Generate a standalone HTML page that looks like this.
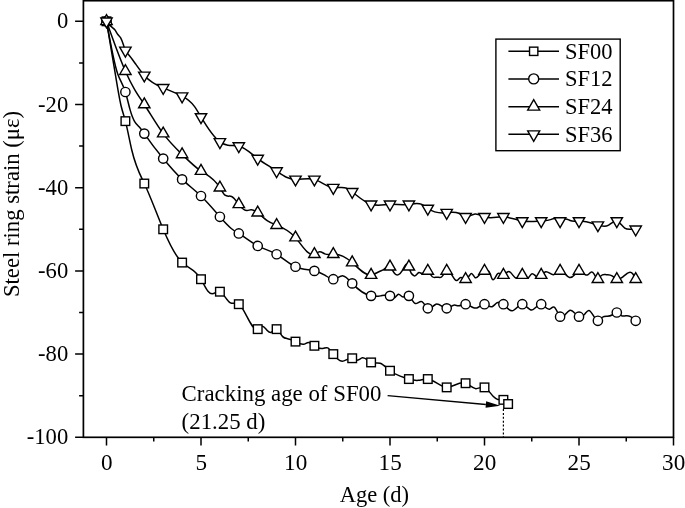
<!DOCTYPE html>
<html><head><meta charset="utf-8"><title>Steel ring strain vs age</title>
<style>html,body{margin:0;padding:0;background:#fff}</style></head>
<body>
<svg width="685" height="508" viewBox="0 0 685 508" style="display:block;font-family:'Liberation Serif',serif;font-size:22.5px" fill="#000">
<rect width="685" height="508" fill="#fff"/>
<rect x="83.4" y="0.7" width="590.10" height="436.60" fill="none" stroke="#000" stroke-width="1.7"/>
<path d="M106.50,437.3v8.3M153.75,437.3v4.3M201.00,437.3v8.3M248.25,437.3v4.3M295.50,437.3v8.3M342.75,437.3v4.3M390.00,437.3v8.3M437.25,437.3v4.3M484.50,437.3v8.3M531.75,437.3v4.3M579.00,437.3v8.3M626.25,437.3v4.3M673.50,437.3v8.3M83.4,21.30h-8.3M83.4,62.90h-4.3M83.4,104.50h-8.3M83.4,146.10h-4.3M83.4,187.70h-8.3M83.4,229.30h-4.3M83.4,270.90h-8.3M83.4,312.50h-4.3M83.4,354.10h-8.3M83.4,395.70h-4.3M83.4,437.30h-8.3" stroke="#000" stroke-width="1.5" fill="none"/>
<text transform="translate(106.70,469.9) scale(1.03,1.06)" text-anchor="middle">0</text>
<text transform="translate(201.20,469.9) scale(1.03,1.06)" text-anchor="middle">5</text>
<text transform="translate(295.70,469.9) scale(1.03,1.06)" text-anchor="middle">10</text>
<text transform="translate(390.20,469.9) scale(1.03,1.06)" text-anchor="middle">15</text>
<text transform="translate(484.70,469.9) scale(1.03,1.06)" text-anchor="middle">20</text>
<text transform="translate(579.20,469.9) scale(1.03,1.06)" text-anchor="middle">25</text>
<text transform="translate(673.70,469.9) scale(1.03,1.06)" text-anchor="middle">30</text>
<text transform="translate(68.2,28.40) scale(1,1.06)" text-anchor="end" font-size="22.6">0</text>
<text transform="translate(68.2,111.60) scale(1,1.06)" text-anchor="end" font-size="22.6">-20</text>
<text transform="translate(68.2,194.80) scale(1,1.06)" text-anchor="end" font-size="22.6">-40</text>
<text transform="translate(68.2,278.00) scale(1,1.06)" text-anchor="end" font-size="22.6">-60</text>
<text transform="translate(68.2,361.20) scale(1,1.06)" text-anchor="end" font-size="22.6">-80</text>
<text transform="translate(68.2,444.40) scale(1,1.06)" text-anchor="end" font-size="22.6">-100</text>
<text x="374.4" y="501.8" text-anchor="middle">Age (d)</text>
<text transform="translate(18.8,204) rotate(-90)" text-anchor="middle" font-size="22.7">Steel ring strain (με)</text>
<path d="M503.40,409V437.3" stroke="#000" stroke-width="1.2" stroke-dasharray="2,1.9" fill="none"/>
<path d="M106.50,21.30C109.30,37.84 112.11,54.39 114.91,71.64C116.96,84.23 119.01,97.21 121.05,105.75C122.50,111.79 123.95,115.61 125.40,121.14C127.54,129.31 129.68,141.20 131.83,150.26C135.98,167.85 140.14,174.76 144.30,183.54C150.60,196.84 156.90,214.40 163.20,229.30C169.50,244.20 175.80,256.45 182.10,262.58C188.40,268.71 194.70,268.71 201.00,279.22C203.33,283.11 205.66,288.43 207.99,291.28C209.38,292.98 210.77,293.80 212.15,293.78C214.73,293.75 217.32,290.82 219.90,291.70C223.24,292.84 226.58,300.33 229.92,302.52C232.88,304.45 235.84,302.21 238.80,304.18C245.10,308.38 251.40,331.66 257.70,329.14C259.34,328.48 260.98,326.08 262.61,326.23C264.25,326.37 265.89,329.06 267.53,330.80C268.60,331.94 269.67,332.67 270.74,332.47C272.69,332.10 274.65,328.62 276.60,329.14C278.62,329.67 280.63,334.46 282.65,336.63C284.29,338.39 285.92,338.43 287.56,338.71C290.21,339.15 292.85,340.22 295.50,341.62C298.46,343.19 301.42,345.17 304.38,344.12C305.71,343.65 307.03,342.57 308.35,342.45C310.37,342.27 312.38,344.30 314.40,345.78C317.49,348.04 320.57,348.99 323.66,348.28C324.98,347.97 326.31,347.36 327.63,347.86C329.52,348.57 331.41,351.54 333.30,354.10C336.26,358.12 339.22,361.14 342.18,361.17C343.51,361.19 344.83,360.60 346.15,359.92C348.17,358.89 350.18,357.65 352.20,358.26C353.77,358.73 355.35,360.33 356.92,360.34C358.75,360.35 360.58,358.21 362.41,357.84C365.30,357.26 368.20,361.13 371.10,362.42C374.12,363.77 377.15,362.31 380.17,363.25C383.45,364.27 386.72,368.12 390.00,370.74C393.40,373.46 396.80,374.87 400.21,376.15C403.10,377.24 406.00,378.24 408.90,379.06C412.05,379.95 415.20,380.62 418.35,380.31C421.50,380.00 424.65,378.70 427.80,379.06C434.10,379.78 440.40,387.11 446.70,387.38C453.00,387.65 459.30,380.87 465.60,383.22C469.00,384.49 472.40,388.42 475.81,388.63C478.70,388.80 481.60,386.27 484.50,387.38C487.46,388.51 490.42,393.45 493.38,396.53C494.83,398.04 496.28,399.11 497.73,399.44C499.62,399.88 501.51,399.08 503.40,399.86C504.97,400.51 506.55,402.27 508.12,404.02" fill="none" stroke="#000" stroke-width="1.5"/>
<g fill="#fff" stroke="#000" stroke-width="1.4"><rect x="102.20" y="17.00" width="8.6" height="8.6"/><rect x="121.10" y="116.84" width="8.6" height="8.6"/><rect x="140.00" y="179.24" width="8.6" height="8.6"/><rect x="158.90" y="225.00" width="8.6" height="8.6"/><rect x="177.80" y="258.28" width="8.6" height="8.6"/><rect x="196.70" y="274.92" width="8.6" height="8.6"/><rect x="215.60" y="287.40" width="8.6" height="8.6"/><rect x="234.50" y="299.88" width="8.6" height="8.6"/><rect x="253.40" y="324.84" width="8.6" height="8.6"/><rect x="272.30" y="324.84" width="8.6" height="8.6"/><rect x="291.20" y="337.32" width="8.6" height="8.6"/><rect x="310.10" y="341.48" width="8.6" height="8.6"/><rect x="329.00" y="349.80" width="8.6" height="8.6"/><rect x="347.90" y="353.96" width="8.6" height="8.6"/><rect x="366.80" y="358.12" width="8.6" height="8.6"/><rect x="385.70" y="366.44" width="8.6" height="8.6"/><rect x="404.60" y="374.76" width="8.6" height="8.6"/><rect x="423.50" y="374.76" width="8.6" height="8.6"/><rect x="442.40" y="383.08" width="8.6" height="8.6"/><rect x="461.30" y="378.92" width="8.6" height="8.6"/><rect x="480.20" y="383.08" width="8.6" height="8.6"/><rect x="499.10" y="395.56" width="8.6" height="8.6"/><rect x="503.82" y="399.72" width="8.6" height="8.6"/></g>
<path d="M106.50,21.30C110.22,42.16 113.93,63.02 117.65,73.72C120.23,81.15 122.82,83.68 125.40,92.02C126.98,97.11 128.55,104.36 130.12,109.91C131.64,115.24 133.15,119.01 134.66,121.56C136.55,124.74 138.44,126.03 140.33,128.21C141.65,129.74 142.98,131.70 144.30,133.62C150.60,142.76 156.90,150.91 163.20,158.58C169.50,166.25 175.80,173.45 182.10,179.38C188.40,185.31 194.70,189.96 201.00,196.02C207.30,202.08 213.60,209.54 219.90,216.82C223.68,221.19 227.46,225.48 231.24,228.47C233.76,230.46 236.28,231.86 238.80,233.46C245.10,237.45 251.40,242.65 257.70,245.94C264.00,249.23 270.30,250.61 276.60,254.26C282.90,257.91 289.20,263.84 295.50,266.74C301.80,269.64 308.10,269.53 314.40,270.90C317.86,271.65 321.33,272.85 324.79,275.06C327.63,276.86 330.46,279.34 333.30,279.22C336.58,279.08 339.85,275.47 343.13,275.89C346.15,276.28 349.18,280.12 352.20,283.38C358.50,290.18 364.80,294.49 371.10,295.86C374.25,296.55 377.40,296.50 380.55,295.86C383.70,295.22 386.85,294.00 390.00,295.86C391.64,296.83 393.28,298.62 394.91,297.52C396.11,296.72 397.31,294.37 398.50,294.20C399.70,294.02 400.90,296.02 402.10,296.69C404.36,297.96 406.63,294.43 408.90,295.86C410.92,297.13 412.93,302.31 414.95,303.35C416.08,303.93 417.22,303.21 418.35,302.52C419.55,301.78 420.74,301.07 421.94,301.68C423.89,302.68 425.85,307.18 427.80,308.34C430.51,309.95 433.22,305.12 435.93,304.18C439.52,302.94 443.11,308.52 446.70,308.34C449.35,308.20 451.99,304.94 454.64,305.01C455.77,305.04 456.91,305.69 458.04,305.84C460.56,306.18 463.08,304.08 465.60,304.18C468.06,304.27 470.51,306.45 472.97,307.51C474.29,308.08 475.62,308.32 476.94,307.92C479.46,307.17 481.98,304.08 484.50,304.18C487.02,304.28 489.54,307.55 492.06,306.68C493.63,306.13 495.21,303.96 496.78,302.93C498.99,301.49 501.19,302.29 503.40,304.18C506.30,306.66 509.20,311.04 512.09,310.84C515.50,310.60 518.90,304.05 522.30,304.18C525.45,304.30 528.60,310.14 531.75,310.00C534.90,309.87 538.05,303.75 541.20,304.18C543.97,304.56 546.74,310.02 549.52,309.17C551.09,308.69 552.67,306.17 554.24,307.09C556.19,308.24 558.15,314.67 560.10,316.66C563.25,319.87 566.40,311.52 569.55,310.42C572.70,309.32 575.85,315.46 579.00,316.66C580.89,317.38 582.78,316.31 584.67,314.16C586.06,312.59 587.44,310.43 588.83,310.42C591.85,310.41 594.88,320.66 597.90,320.82C599.41,320.90 600.92,318.45 602.44,317.28C604.07,316.02 605.71,316.26 607.35,316.24C608.92,316.23 610.50,315.98 612.08,315.00C613.65,314.01 615.23,312.28 616.80,312.50C618.44,312.73 620.08,315.08 621.71,315.83C623.04,316.43 624.36,316.00 625.68,315.83C627.32,315.61 628.96,315.80 630.60,316.66C632.30,317.56 634.00,319.19 635.70,320.82" fill="none" stroke="#000" stroke-width="1.5"/>
<g fill="#fff" stroke="#000" stroke-width="1.4"><circle cx="106.50" cy="21.30" r="4.65"/><circle cx="125.40" cy="92.02" r="4.65"/><circle cx="144.30" cy="133.62" r="4.65"/><circle cx="163.20" cy="158.58" r="4.65"/><circle cx="182.10" cy="179.38" r="4.65"/><circle cx="201.00" cy="196.02" r="4.65"/><circle cx="219.90" cy="216.82" r="4.65"/><circle cx="238.80" cy="233.46" r="4.65"/><circle cx="257.70" cy="245.94" r="4.65"/><circle cx="276.60" cy="254.26" r="4.65"/><circle cx="295.50" cy="266.74" r="4.65"/><circle cx="314.40" cy="270.90" r="4.65"/><circle cx="333.30" cy="279.22" r="4.65"/><circle cx="352.20" cy="283.38" r="4.65"/><circle cx="371.10" cy="295.86" r="4.65"/><circle cx="390.00" cy="295.86" r="4.65"/><circle cx="408.90" cy="295.86" r="4.65"/><circle cx="427.80" cy="308.34" r="4.65"/><circle cx="446.70" cy="308.34" r="4.65"/><circle cx="465.60" cy="304.18" r="4.65"/><circle cx="484.50" cy="304.18" r="4.65"/><circle cx="503.40" cy="304.18" r="4.65"/><circle cx="522.30" cy="304.18" r="4.65"/><circle cx="541.20" cy="304.18" r="4.65"/><circle cx="560.10" cy="316.66" r="4.65"/><circle cx="579.00" cy="316.66" r="4.65"/><circle cx="597.90" cy="320.82" r="4.65"/><circle cx="616.80" cy="312.50" r="4.65"/><circle cx="635.70" cy="320.82" r="4.65"/></g>
<path d="M106.50,21.30C112.80,39.16 119.10,57.01 125.40,71.22C128.49,78.18 131.57,84.26 134.66,89.52C137.87,95.00 141.09,99.58 144.30,104.50C150.60,114.15 156.90,125.09 163.20,133.62C169.50,142.15 175.80,148.25 182.10,154.42C188.40,160.59 194.70,166.84 201.00,171.06C207.30,175.28 213.60,177.49 219.90,187.70C221.60,190.46 223.30,193.80 225.00,195.19C227.21,196.99 229.41,195.53 231.62,196.44C234.01,197.42 236.41,201.21 238.80,204.34C241.57,207.96 244.34,210.70 247.12,210.58C248.38,210.53 249.64,209.89 250.90,209.75C253.16,209.50 255.43,210.88 257.70,212.66C260.85,215.13 264.00,218.37 267.15,220.56C270.30,222.76 273.45,223.91 276.60,225.14C282.90,227.60 289.20,230.38 295.50,237.62C301.80,244.86 308.10,256.58 314.40,254.26C316.16,253.61 317.93,251.86 319.69,251.76C321.39,251.67 323.09,253.10 324.79,253.84C327.63,255.08 330.46,254.37 333.30,254.26C336.58,254.13 339.85,254.80 343.13,256.34C346.15,257.76 349.18,259.92 352.20,262.58C358.50,268.11 364.80,275.79 371.10,275.06C373.87,274.74 376.64,272.79 379.42,271.52C380.93,270.83 382.44,270.35 383.95,269.24C385.97,267.76 387.98,265.17 390.00,266.74C391.64,268.02 393.28,272.04 394.91,273.81C396.11,275.11 397.31,275.20 398.50,274.64C399.70,274.09 400.90,272.89 402.10,270.90C404.36,267.13 406.63,260.52 408.90,266.74C409.34,267.95 409.78,269.65 410.22,270.90C410.98,273.05 411.73,273.91 412.49,274.64C413.31,275.44 414.13,276.11 414.95,275.89C416.27,275.55 417.59,272.91 418.92,272.56C419.92,272.30 420.93,273.36 421.94,273.40C423.89,273.47 425.85,269.71 427.80,270.90C428.74,271.48 429.69,273.21 430.63,274.64C431.20,275.50 431.77,276.26 432.34,276.72C433.91,278.02 435.49,277.13 437.06,277.14C438.64,277.15 440.21,278.07 441.79,276.72C442.35,276.24 442.92,275.46 443.49,274.64C444.56,273.10 445.63,271.41 446.70,270.90C448.34,270.12 449.98,272.08 451.61,274.64C452.62,276.22 453.63,278.02 454.64,279.22C455.39,280.12 456.15,280.68 456.91,280.47C458.04,280.15 459.17,278.11 460.31,277.56C462.07,276.70 463.84,279.44 465.60,279.22C466.99,279.05 468.37,277.04 469.76,275.06C470.32,274.25 470.89,273.44 471.46,273.40C472.66,273.30 473.85,276.58 475.05,277.56C476.56,278.79 478.07,276.35 479.59,274.64C481.22,272.79 482.86,271.80 484.50,270.90C486.39,269.86 488.28,268.95 490.17,273.81C490.80,275.43 491.43,277.69 492.06,278.80C493.89,282.03 495.71,275.58 497.54,273.81C499.49,271.92 501.45,275.39 503.40,275.06C504.91,274.81 506.42,272.28 507.94,271.73C508.82,271.41 509.70,271.77 510.58,272.56C512.35,274.16 514.11,277.54 515.87,277.97C518.02,278.50 520.16,274.67 522.30,275.06C524.25,275.42 526.21,279.27 528.16,277.97C529.36,277.17 530.55,274.44 531.75,273.81C533.20,273.05 534.65,275.39 536.10,276.31C537.80,277.39 539.50,276.51 541.20,275.06C542.71,273.77 544.22,272.03 545.74,271.73C548.32,271.23 550.90,274.96 553.48,274.64C555.69,274.37 557.89,271.14 560.10,270.90C561.99,270.69 563.88,272.68 565.77,274.64C567.03,275.96 568.29,277.26 569.55,277.56C571.25,277.96 572.95,276.52 574.65,274.64C576.10,273.05 577.55,271.13 579.00,270.90C581.02,270.58 583.03,273.52 585.05,274.64C586.06,275.21 587.06,275.32 588.07,274.64C589.08,273.97 590.09,272.52 591.10,272.15C592.04,271.80 592.99,272.41 593.93,273.81C595.25,275.77 596.58,279.27 597.90,279.22C598.91,279.19 599.92,277.09 600.92,275.89C602.69,273.79 604.45,274.40 606.22,274.64C608.17,274.91 610.12,274.71 612.08,275.89C613.65,276.84 615.23,278.69 616.80,279.22C618.31,279.72 619.82,279.01 621.34,277.97C623.29,276.63 625.24,274.76 627.19,273.40C628.14,272.73 629.08,272.19 630.03,272.15C630.85,272.11 631.67,272.45 632.49,273.40C633.56,274.64 634.63,276.93 635.70,279.22" fill="none" stroke="#000" stroke-width="1.5"/>
<g fill="#fff" stroke="#000" stroke-width="1.4"><path d="M100.80,24.59L112.20,24.59L106.50,14.72Z"/><path d="M119.70,74.51L131.10,74.51L125.40,64.64Z"/><path d="M138.60,107.79L150.00,107.79L144.30,97.92Z"/><path d="M157.50,136.91L168.90,136.91L163.20,127.04Z"/><path d="M176.40,157.71L187.80,157.71L182.10,147.84Z"/><path d="M195.30,174.35L206.70,174.35L201.00,164.48Z"/><path d="M214.20,190.99L225.60,190.99L219.90,181.12Z"/><path d="M233.10,207.63L244.50,207.63L238.80,197.76Z"/><path d="M252.00,215.95L263.40,215.95L257.70,206.08Z"/><path d="M270.90,228.43L282.30,228.43L276.60,218.56Z"/><path d="M289.80,240.91L301.20,240.91L295.50,231.04Z"/><path d="M308.70,257.55L320.10,257.55L314.40,247.68Z"/><path d="M327.60,257.55L339.00,257.55L333.30,247.68Z"/><path d="M346.50,265.87L357.90,265.87L352.20,256.00Z"/><path d="M365.40,278.35L376.80,278.35L371.10,268.48Z"/><path d="M384.30,270.03L395.70,270.03L390.00,260.16Z"/><path d="M403.20,270.03L414.60,270.03L408.90,260.16Z"/><path d="M422.10,274.19L433.50,274.19L427.80,264.32Z"/><path d="M441.00,274.19L452.40,274.19L446.70,264.32Z"/><path d="M459.90,282.51L471.30,282.51L465.60,272.64Z"/><path d="M478.80,274.19L490.20,274.19L484.50,264.32Z"/><path d="M497.70,278.35L509.10,278.35L503.40,268.48Z"/><path d="M516.60,278.35L528.00,278.35L522.30,268.48Z"/><path d="M535.50,278.35L546.90,278.35L541.20,268.48Z"/><path d="M554.40,274.19L565.80,274.19L560.10,264.32Z"/><path d="M573.30,274.19L584.70,274.19L579.00,264.32Z"/><path d="M592.20,282.51L603.60,282.51L597.90,272.64Z"/><path d="M611.10,282.51L622.50,282.51L616.80,272.64Z"/><path d="M630.00,282.51L641.40,282.51L635.70,272.64Z"/></g>
<path d="M106.50,21.30C108.39,23.54 110.28,25.78 112.17,27.33C113.05,28.06 113.93,28.63 114.82,29.79C115.82,31.10 116.83,33.17 117.84,34.49C118.78,35.72 119.73,36.30 120.67,37.94C121.56,39.47 122.44,41.93 123.32,44.60C124.01,46.69 124.71,48.92 125.40,50.42C126.34,52.47 127.29,53.18 128.23,54.16C129.43,55.41 130.63,57.08 131.83,58.74C133.02,60.40 134.22,62.06 135.42,63.73C138.38,67.87 141.34,72.08 144.30,75.38C150.60,82.39 156.90,85.24 163.20,87.86C169.50,90.48 175.80,92.88 182.10,96.18C186.13,98.29 190.16,100.77 194.20,106.16C196.46,109.20 198.73,113.15 201.00,116.98C207.30,127.63 213.60,137.37 219.90,141.94C222.55,143.86 225.19,144.87 227.84,145.27C231.49,145.81 235.15,145.19 238.80,146.10C245.10,147.67 251.40,153.81 257.70,158.58C264.00,163.35 270.30,166.76 276.60,171.06C279.88,173.30 283.15,175.78 286.43,177.30C289.45,178.71 292.48,179.30 295.50,179.38C301.80,179.56 308.10,177.54 314.40,179.38C320.70,181.22 327.00,186.92 333.30,187.70C337.65,188.24 341.99,186.43 346.34,188.12C348.29,188.87 350.25,190.33 352.20,191.86C358.50,196.78 364.80,202.38 371.10,204.34C377.40,206.30 383.70,204.61 390.00,204.34C396.30,204.07 402.60,205.20 408.90,204.34C413.18,203.75 417.47,202.25 421.75,204.34C423.77,205.33 425.78,207.11 427.80,208.50C434.10,212.85 440.40,213.36 446.70,212.66C450.73,212.21 454.76,211.26 458.80,213.28C461.06,214.42 463.33,216.51 465.60,216.82C468.75,217.26 471.90,214.29 475.05,213.91C478.20,213.53 481.35,215.74 484.50,216.82C490.80,218.97 497.10,216.58 503.40,216.82C509.70,217.06 516.00,219.92 522.30,220.98C528.60,222.04 534.90,221.31 541.20,220.98C544.60,220.80 548.00,220.75 551.41,219.32C552.29,218.94 553.17,218.48 554.05,218.48C556.07,218.49 558.08,220.93 560.10,220.98C561.99,221.03 563.88,218.98 565.77,218.90C567.22,218.84 568.67,219.94 570.12,220.56C573.08,221.84 576.04,221.11 579.00,220.98C585.30,220.71 591.60,223.17 597.90,225.14C601.49,226.26 605.08,227.23 608.67,225.14C611.38,223.57 614.09,220.26 616.80,220.98C619.45,221.68 622.09,226.23 624.74,228.05C626.38,229.18 628.01,229.26 629.65,229.30C631.67,229.35 633.68,229.32 635.70,229.30" fill="none" stroke="#000" stroke-width="1.5"/>
<g fill="#fff" stroke="#000" stroke-width="1.4"><path d="M100.80,18.01L112.20,18.01L106.50,27.88Z"/><path d="M119.70,47.13L131.10,47.13L125.40,57.00Z"/><path d="M138.60,72.09L150.00,72.09L144.30,81.96Z"/><path d="M157.50,84.57L168.90,84.57L163.20,94.44Z"/><path d="M176.40,92.89L187.80,92.89L182.10,102.76Z"/><path d="M195.30,113.69L206.70,113.69L201.00,123.56Z"/><path d="M214.20,138.65L225.60,138.65L219.90,148.52Z"/><path d="M233.10,142.81L244.50,142.81L238.80,152.68Z"/><path d="M252.00,155.29L263.40,155.29L257.70,165.16Z"/><path d="M270.90,167.77L282.30,167.77L276.60,177.64Z"/><path d="M289.80,176.09L301.20,176.09L295.50,185.96Z"/><path d="M308.70,176.09L320.10,176.09L314.40,185.96Z"/><path d="M327.60,184.41L339.00,184.41L333.30,194.28Z"/><path d="M346.50,188.57L357.90,188.57L352.20,198.44Z"/><path d="M365.40,201.05L376.80,201.05L371.10,210.92Z"/><path d="M384.30,201.05L395.70,201.05L390.00,210.92Z"/><path d="M403.20,201.05L414.60,201.05L408.90,210.92Z"/><path d="M422.10,205.21L433.50,205.21L427.80,215.08Z"/><path d="M441.00,209.37L452.40,209.37L446.70,219.24Z"/><path d="M459.90,213.53L471.30,213.53L465.60,223.40Z"/><path d="M478.80,213.53L490.20,213.53L484.50,223.40Z"/><path d="M497.70,213.53L509.10,213.53L503.40,223.40Z"/><path d="M516.60,217.69L528.00,217.69L522.30,227.56Z"/><path d="M535.50,217.69L546.90,217.69L541.20,227.56Z"/><path d="M554.40,217.69L565.80,217.69L560.10,227.56Z"/><path d="M573.30,217.69L584.70,217.69L579.00,227.56Z"/><path d="M592.20,221.85L603.60,221.85L597.90,231.72Z"/><path d="M611.10,217.69L622.50,217.69L616.80,227.56Z"/><path d="M630.00,226.01L641.40,226.01L635.70,235.88Z"/></g>
<text transform="translate(181.6,401.3) scale(1,1.03)" font-size="22.85">Cracking age of SF00</text>
<text transform="translate(181.6,428.7) scale(1,1.03)" font-size="22.85">(21.25 d)</text>
<path d="M387.6,395.7L485.86,404.51" stroke="#000" stroke-width="1.3"/>
<path d="M500.3,405.8L485.56,407.79L486.15,401.22Z"/>
<rect x="495.9" y="39.1" width="124.3" height="111.6" fill="#fff" stroke="#000" stroke-width="1.4"/>
<path d="M508.4,51.3H559" stroke="#000" stroke-width="1.5"/>
<g fill="#fff" stroke="#000" stroke-width="1.4"><rect x="529.55" y="47.15" width="8.3" height="8.3"/></g>
<text transform="translate(564.9,58.8) scale(1,1.06)">SF00</text>
<path d="M508.4,78.9H559" stroke="#000" stroke-width="1.5"/>
<g fill="#fff" stroke="#000" stroke-width="1.4"><circle cx="533.70" cy="78.90" r="5.0"/></g>
<text transform="translate(564.9,86.4) scale(1,1.06)">SF12</text>
<path d="M508.4,106.7H559" stroke="#000" stroke-width="1.5"/>
<g fill="#fff" stroke="#000" stroke-width="1.4"><path d="M527.70,110.16L539.70,110.16L533.70,99.77Z"/></g>
<text transform="translate(564.9,114.2) scale(1,1.06)">SF24</text>
<path d="M508.4,134.3H559" stroke="#000" stroke-width="1.5"/>
<g fill="#fff" stroke="#000" stroke-width="1.4"><path d="M527.70,130.84L539.70,130.84L533.70,141.23Z"/></g>
<text transform="translate(564.9,141.8) scale(1,1.06)">SF36</text>
</svg>
</body></html>
